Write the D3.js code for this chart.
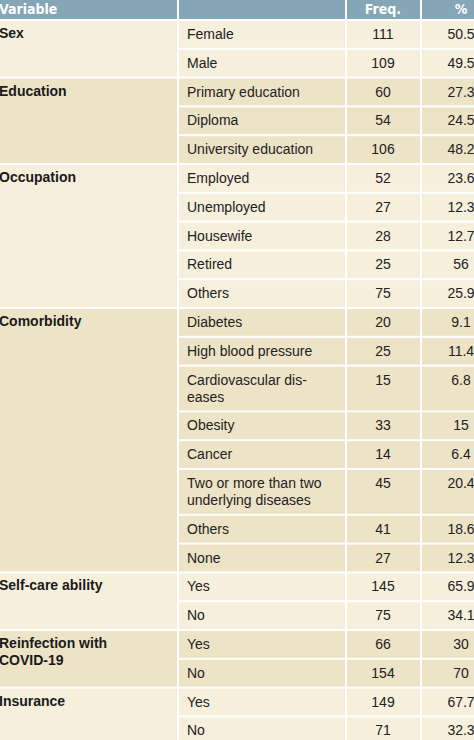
<!DOCTYPE html>
<html><head><meta charset="utf-8">
<script src="https://cdn.jsdelivr.net/npm/d3@7"></script>
<style>body{margin:0;background:#fff}svg{display:block}</style>
</head><body><div id="chart"></div>
<script>
var variables = ["Sex","Education","Occupation","Comorbidity","Self-care ability","Reinfection with\nCOVID-19","Insurance"];
var groupSizes = [2,3,5,8,2,2,2];
var categories = ["Female","Male","Primary education","Diploma","University education",
  "Employed","Unemployed","Housewife","Retired","Others",
  "Diabetes","High blood pressure","Cardiovascular dis-\neases","Obesity","Cancer",
  "Two or more than two\nunderlying diseases","Others","None",
  "Yes","No","Yes","No","Yes","No"];
var freq = [111,109,60,54,106,52,27,28,25,75,20,25,15,33,14,45,41,27,145,75,66,154,149,71];
var pct = ["50.5","49.5","27.3","24.5","48.2","23.6","12.3","12.7","56","25.9","9.1","11.4","6.8","15","6.4","20.4","18.6","12.3","65.9","34.1","30","70","67.7","32.3"];
var headers = ["Variable","","Freq.","%"];

var W = 474, H = 740;
var colX = [-3, 179, 347, 422], colW = [180, 166, 73, 80];
var headH = 19, gap = 2, rowH = 26.8, lineH = 17;
var colors = ["#f5efdc","#ede3c6"];

var svg = d3.select("#chart").append("svg").attr("width", W).attr("height", H)
  .style("font-family","'Liberation Sans', Arial, sans-serif");
svg.append("rect").attr("width",W).attr("height",H).attr("fill","#fff");

// header
svg.selectAll("rect.h").data(headers).enter().append("rect")
  .attr("x",function(d,i){return colX[i];}).attr("y",0)
  .attr("width",function(d,i){return colW[i];}).attr("height",headH)
  .attr("fill","#84a6b6");
svg.selectAll("text.h").data(headers).enter().append("text")
  .attr("x",function(d,i){return i==0?-1:i==2?383:i==3?461:0;})
  .attr("y",14).attr("text-anchor",function(d,i){return i==0?"start":"middle";})
  .attr("fill","#fff").attr("font-weight","bold").attr("font-size",14)
  .style("font-family","'Liberation Sans Narrow','DejaVu Sans Condensed',sans-serif")
  .text(function(d){return d;});

// rows
var rows = [], y = headH + gap, gi = 0, k = 0;
groupSizes.forEach(function(n, g){
  var gy = y;
  for (var j = 0; j < n; j++, k++) {
    var lines = categories[k].split("\n").length;
    var h = rowH + (lines - 1) * lineH;
    rows.push({y:y, h:h, g:g, cat:categories[k], f:freq[k], p:pct[k]});
    y += h + gap;
  }
  svg.append("rect").attr("x",colX[0]).attr("y",gy).attr("width",colW[0])
    .attr("height",y-gy-gap).attr("fill",colors[g%2]);
  var vt = svg.append("text").attr("x",-1).attr("y",gy+17).attr("font-weight","bold")
    .attr("font-size",14).attr("fill","#1a1a1a");
  vt.selectAll("tspan").data(variables[g].split("\n")).enter().append("tspan")
    .attr("x",-1).attr("dy",function(d,i){return i?lineH:0;}).text(function(d){return d;});
});

var r = svg.selectAll("g.row").data(rows).enter().append("g").attr("class","row")
  .attr("transform",function(d){return "translate(0,"+d.y+")";});
[1,2,3].forEach(function(c){
  r.append("rect").attr("x",colX[c]).attr("width",colW[c])
    .attr("height",function(d){return d.h;})
    .attr("fill",function(d){return colors[d.g%2];});
});
var t = r.append("text").attr("x",187).attr("y",18).attr("font-size",14).attr("fill","#222");
t.selectAll("tspan").data(function(d){return d.cat.split("\n");}).enter().append("tspan")
  .attr("x",187).attr("dy",function(d,i){return i?lineH:0;}).text(function(d){return d;});
r.append("text").attr("x",383).attr("y",18).attr("text-anchor","middle").attr("font-size",14)
  .attr("fill","#222").text(function(d){return d.f;});
r.append("text").attr("x",461).attr("y",18).attr("text-anchor","middle").attr("font-size",14)
  .attr("fill","#222").text(function(d){return d.p;});
</script></body></html>
